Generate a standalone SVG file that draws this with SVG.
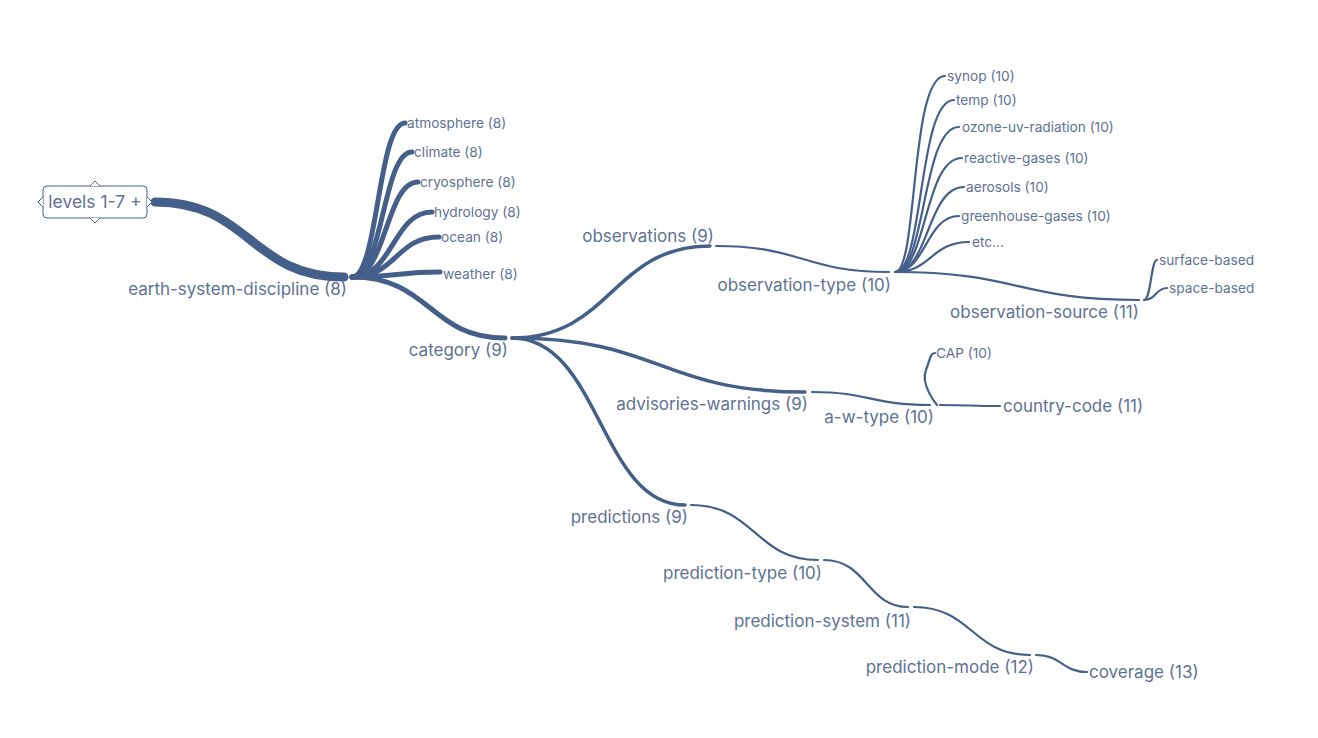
<svg xmlns="http://www.w3.org/2000/svg" width="1318" height="738" viewBox="0 0 1318 738">
<style>
.e{fill:none;stroke:#44608a;stroke-linecap:round}
.t{font-family:Inter,"Noto Sans",sans-serif;fill:#5d7294}
.l{font-size:17px}
.s{font-size:13.7px}
.r{text-anchor:end}
</style>
<rect width="1318" height="738" fill="#fff"/>
<g id="connectors">
<path class="e" stroke-width="9" d="M155,202 C250,202 250,277 344,277"/>
<g stroke-width="5">
<path class="e" d="M352,277 C378,277 378,123 405,123"/>
<path class="e" d="M352,277 C383,277 383,152 412,152"/>
<path class="e" d="M352,277 C386,277 386,182 418,182"/>
<path class="e" d="M352,277 C393,277 393,212 432,212"/>
<path class="e" d="M352,277 C396,277 396,237 439,237"/>
<path class="e" d="M352,277 C397,277 397,272 440,272"/>
<path class="e" d="M352,277 C430,277 430,338 505,338"/>
</g>
<g stroke-width="3.5">
<path class="e" d="M512,338 C612,338 612,246 710,246"/>
<path class="e" d="M512,338 C660,338 660,392 805,392"/>
<path class="e" d="M512,338 C600,338 600,505 685,505"/>
</g>
<g stroke-width="2.2">
<path class="e" d="M716,246 C803,246 803,272 889,272"/>
<path class="e" d="M812,392 C870,392 870,405 930,405"/>
<path class="e" d="M691,505 C755,505 755,560 818,560"/>
<path class="e" d="M824,560 C867,560 867,607 908,607"/>
<path class="e" d="M914,607 C972,607 972,655 1030,655"/>
<path class="e" d="M1036,655 C1062,655 1062,672 1087,672"/>
<path class="e" d="M895,272 C1018,272 1018,300 1139,300"/>
<path class="e" d="M1144,300 C1151,300 1151,260 1157,260"/>
<path class="e" d="M1144,300 C1156,300 1156,288 1167,288"/>
<path class="e" d="M937,405 C937,405 920,385 926,370 C930,360 930,353 935,353"/>
<path class="e" d="M940,405 C970,405 970,406 1000,406"/>
<path class="e" d="M895,272 C918,272 910,76 945,76"/>
<path class="e" d="M895,272 C924,272 918,100 954,100"/>
<path class="e" d="M895,272 C926,272 922,127 959,127"/>
<path class="e" d="M895,272 C927,272 924,158 962,158"/>
<path class="e" d="M895,272 C929,272 927,187 964,187"/>
<path class="e" d="M895,272 C926,272 926,216 959,216"/>
<path class="e" d="M895,272 C931,272 931,242 969,242"/>
</g>
</g>
<g id="root">
<rect x="43" y="186" width="104" height="32" rx="4" fill="#fff" stroke="#44608a" stroke-width="1"/>
<path d="M90,186 L95,181 L100,186 M90,218 L95,223 L100,218 M43,197 L38,202 L43,207 M147,197 L152,202 L147,207" fill="#fff" stroke="#44608a" stroke-width="1"/>
<text class="t" font-size="17.5" x="95" y="208" text-anchor="middle">levels 1-7 +</text>
</g>
<g id="esd"><text class="t l r" x="347" y="295">earth-system-discipline (8)</text></g>
<g id="atmosphere"><text class="t s" x="407" y="128">atmosphere (8)</text></g>
<g id="climate"><text class="t s" x="414" y="157">climate (8)</text></g>
<g id="cryosphere"><text class="t s" x="420" y="187">cryosphere (8)</text></g>
<g id="hydrology"><text class="t s" x="434" y="217">hydrology (8)</text></g>
<g id="ocean"><text class="t s" x="441" y="242">ocean (8)</text></g>
<g id="weather"><text class="t s" x="443" y="279">weather (8)</text></g>
<g id="category"><text class="t l r" x="508" y="356">category (9)</text></g>
<g id="observations"><text class="t l r" x="714" y="242">observations (9)</text></g>
<g id="observation-type"><text class="t l r" x="891" y="291">observation-type (10)</text></g>
<g id="synop"><text class="t s" x="947" y="81">synop (10)</text></g>
<g id="temp"><text class="t s" x="956" y="105">temp (10)</text></g>
<g id="ozone"><text class="t s" x="962" y="132">ozone-uv-radiation (10)</text></g>
<g id="reactive"><text class="t s" x="964" y="163">reactive-gases (10)</text></g>
<g id="aerosols"><text class="t s" x="966" y="192">aerosols (10)</text></g>
<g id="greenhouse"><text class="t s" x="961" y="221">greenhouse-gases (10)</text></g>
<g id="etc"><text class="t s" x="972" y="247">etc...</text></g>
<g id="observation-source"><text class="t l r" x="1139" y="318">observation-source (11)</text></g>
<g id="surface"><text class="t s" x="1159" y="265">surface-based</text></g>
<g id="space"><text class="t s" x="1169" y="293">space-based</text></g>
<g id="advisories"><text class="t l r" x="808" y="410">advisories-warnings (9)</text></g>
<g id="aw-type"><text class="t l r" x="934" y="423">a-w-type (10)</text></g>
<g id="cap"><text class="t s" x="936" y="358">CAP (10)</text></g>
<g id="country"><text class="t l" x="1003" y="412">country-code (11)</text></g>
<g id="predictions"><text class="t l r" x="688" y="523">predictions (9)</text></g>
<g id="prediction-type"><text class="t l r" x="822" y="579">prediction-type (10)</text></g>
<g id="prediction-system"><text class="t l r" x="911" y="627">prediction-system (11)</text></g>
<g id="prediction-mode"><text class="t l r" x="1034" y="673">prediction-mode (12)</text></g>
<g id="coverage"><text class="t l" x="1089" y="678">coverage (13)</text></g>
</svg>
